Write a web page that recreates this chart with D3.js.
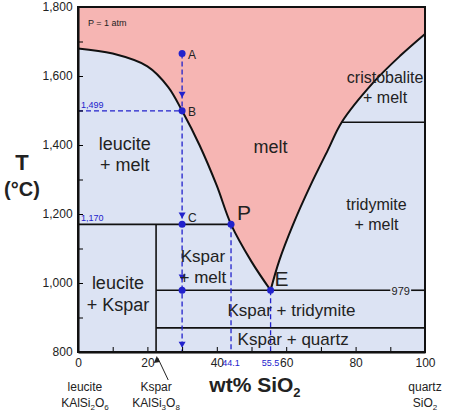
<!DOCTYPE html><html><head><meta charset="utf-8"><script src="https://cdn.jsdelivr.net/npm/d3@7"></script>
<style>body{margin:0;background:#fff}text{font-family:Arial,"Liberation Sans",sans-serif}</style></head><body><svg id="c" width="474" height="413"></svg>
<script>
const xTicks=[0,20,40,60,80,100];
const yTicks=[800,1000,1200,1400,1600,1800];
const leftLiquidus=[[0,1680],[10,1665],[20,1628],[26,1568],[30,1499],[35,1400],[40,1282],[44.1,1170],[50,1062],[55.5,979]];
const rightLiquidus=[[55.5,979],[58,1065],[62,1170],[67,1283],[72,1385],[76,1466],[85,1580],[93,1660],[100,1722]];
const points=[{n:"A",x:30,t:1665},{n:"B",x:30,t:1499},{n:"C",x:30,t:1170},{n:"P",x:44.1,t:1170},{n:"E",x:55.5,t:979},{n:"",x:30,t:979}];
const isotherms=[[0,44.1,1170],[22.5,90,979],[22.5,100,870],[76,100,1466]];
const svg=d3.select("#c");
const x=d3.scaleLinear().domain([0,100]).range([78,425]);
const y=d3.scaleLinear().domain([800,1800]).range([352,7]);
svg.append("rect").attr("x",x(0)).attr("y",y(1800)).attr("width",x(100)-x(0)).attr("height",y(800)-y(1800)).attr("fill","#dce3f3");
const cl=d3.line().curve(d3.curveCatmullRom.alpha(0.5)).x(d=>x(d[0])).y(d=>y(d[1]));
const lp=cl(leftLiquidus), rp=cl(rightLiquidus);
svg.append("path").attr("d",`M${x(0)},${y(1800)}L${lp.slice(1)}L${rp.slice(1)}L${x(100)},${y(1800)}Z`).attr("fill","#f6b5b3");
svg.append("path").attr("d",lp).attr("fill","none").attr("stroke","#111").attr("stroke-width",2);
svg.append("path").attr("d",rp).attr("fill","none").attr("stroke","#111").attr("stroke-width",2);
isotherms.forEach(d=>svg.append("line").attr("x1",x(d[0])).attr("x2",x(d[1])).attr("y1",y(d[2])).attr("y2",y(d[2])).attr("stroke","#111").attr("stroke-width",1.6));
svg.append("line").attr("x1",x(96)).attr("x2",x(100)).attr("y1",y(979)).attr("y2",y(979)).attr("stroke","#111").attr("stroke-width",1.6);
svg.append("line").attr("x1",x(22.5)).attr("x2",x(22.5)).attr("y1",y(1170)).attr("y2",y(800)).attr("stroke","#111").attr("stroke-width",1.6);
const blue="#2222cc";
const dash=(x1,y1,x2,y2)=>svg.append("line").attr("x1",x(x1)).attr("x2",x(x2)).attr("y1",y(y1)).attr("y2",y(y2)).attr("stroke",blue).attr("stroke-width",1.3).attr("stroke-dasharray","5,3");
dash(0,1499,30,1499);dash(30,1665,30,800);dash(44.1,1170,44.1,800);dash(55.5,979,55.5,800);
[1540,1190,1010,815].forEach(t=>svg.append("path").attr("d",`M${x(30)-3.5},${y(t)-5}L${x(30)+3.5},${y(t)-5}L${x(30)},${y(t)+1}Z`).attr("fill",blue));
points.forEach(p=>svg.append("circle").attr("cx",x(p.x)).attr("cy",y(p.t)).attr("r",3.5).attr("fill",blue));
const txt=(s,px,py,sz,opt={})=>svg.append("text").attr("x",px).attr("y",py).attr("font-size",sz).attr("fill",opt.fill||"#222").attr("text-anchor",opt.a||"start").attr("font-weight",opt.w||"normal").text(s);
txt("A",x(30)+6,y(1665)+5,12);txt("B",x(30)+6,y(1499)+5,12);txt("C",x(30)+6,y(1170)-2,12);
txt("P",x(44.1)+6,y(1170)-4,21);txt("E",x(55.5)+4,y(979)-4,21);
txt("1,499",x(0)+3,y(1499)-3,9,{fill:blue});txt("1,170",x(0)+3,y(1170)-3,9,{fill:blue});
txt("44.1",x(44.1),366,9,{fill:blue,a:"middle"});txt("55.5",x(55.5),366,9,{fill:blue,a:"middle"});
txt("979",x(93),y(979)+5,11,{a:"middle"});
txt("P = 1 atm",x(0)+10,26,9);
txt("melt",x(55.5),153,18,{a:"middle"});
const multi=(lines,px,py,sz,lh)=>lines.forEach((s,i)=>txt(s,px,py+i*lh,sz,{a:"middle"}));
multi(["leucite","+ melt"],x(13.5),150,18,21);
multi(["cristobalite","+ melt"],x(88.5),83,16,20);
multi(["tridymite","+ melt"],x(86),210,16,20);
multi(["Kspar","+ melt"],x(36),262,17,21);
multi(["leucite","+ Kspar"],x(11.5),289,18,22);
txt("Kspar + tridymite",x(61.5),316,17,{a:"middle"});
txt("Kspar + quartz",x(62),345,17,{a:"middle"});
svg.append("g").attr("transform",`translate(0,${y(800)})`).call(d3.axisBottom(x).tickValues(d3.range(0,101,10)).tickFormat(d=>xTicks.includes(d)?d:"").tickSize(-5).tickSizeOuter(0)).call(g=>{g.select(".domain").attr("stroke-width",2);g.selectAll("text").attr("font-size",12).attr("dy","1em").attr("fill","#222")});
svg.append("g").attr("transform",`translate(${x(0)},0)`).call(d3.axisLeft(y).tickValues(d3.range(800,1801,100)).tickFormat(d=>yTicks.includes(d)?d3.format(",")(d):"").tickSize(-5).tickSizeOuter(0)).call(g=>{g.select(".domain").attr("stroke-width",2);g.selectAll("text").attr("font-size",12).attr("fill","#222").attr("dx","-0.2em")});
svg.append("rect").attr("x",x(0)).attr("y",y(1800)).attr("width",x(100)-x(0)).attr("height",y(800)-y(1800)).attr("fill","none").attr("stroke","#111").attr("stroke-width",2);
txt("T",22,170,22,{a:"middle",w:"bold"});txt("(°C)",22,196,20,{a:"middle",w:"bold"});
const xl=svg.append("text").attr("x",x(51)).attr("y",392).attr("font-size",21).attr("font-weight","bold").attr("fill","#222").attr("text-anchor","middle");
xl.append("tspan").text("wt% SiO");xl.append("tspan").attr("font-size",13).attr("dy",5).text("2");
const formula=(parts,px,py)=>{const t=svg.append("text").attr("x",px).attr("y",py).attr("font-size",12).attr("fill","#222").attr("text-anchor","middle");parts.forEach((p,i)=>t.append("tspan").attr("font-size",i%2?8:12).attr("dy",i%2?3:(i?-3:0)).text(p));};
txt("leucite",x(2),391,12,{a:"middle"});formula(["KAlSi","2","O","6"],x(2),407);
txt("Kspar",x(22.5),391,12,{a:"middle"});formula(["KAlSi","3","O","8"],x(22.5),407);
txt("quartz",x(100),391,12,{a:"middle"});formula(["SiO","2"],x(100),407);
svg.append("line").attr("x1",x(26)).attr("y1",380).attr("x2",x(23)).attr("y2",358).attr("stroke","#222").attr("stroke-width",1);
svg.append("path").attr("d",`M${x(23)-1},356 l-3,7 l6,-1Z`).attr("fill","#222");
</script></body></html>
